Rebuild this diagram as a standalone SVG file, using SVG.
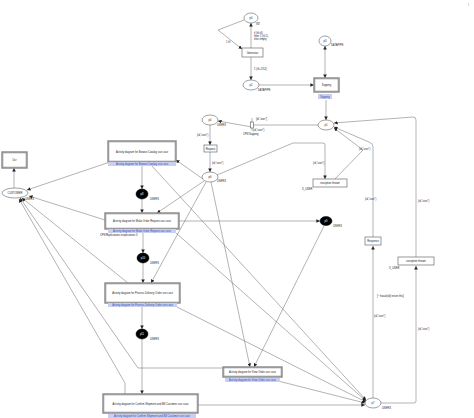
<svg xmlns="http://www.w3.org/2000/svg" width="474" height="418" viewBox="0 0 474 418">
<defs>
<marker id="ar" viewBox="0 0 10 10" refX="10" refY="5" markerWidth="3.6" markerHeight="3.6" orient="auto-start-reverse" markerUnits="userSpaceOnUse">
<path d="M0,0 L10,5 L0,10 z" fill="#222"/>
</marker>
<style>
.c{fill:none;stroke:#666;stroke-width:0.5;marker-end:url(#ar)}
.pl{fill:#fff;stroke:#444;stroke-width:0.5}
.bp{fill:#000;stroke:#000;stroke-width:0.5}
.tr{fill:#fff;stroke:#555;stroke-width:0.6}
.ob{fill:#fff;stroke:#888;stroke-width:1.4}
.ib{fill:none;stroke:#444;stroke-width:0.3}
.band{fill:#c9d0ee}
text{font-family:"Liberation Sans",Arial,sans-serif;font-size:2.6px;fill:#222}
.lk{fill:#2a48c0;text-anchor:middle}
.m{text-anchor:middle}
.w{fill:#fff;text-anchor:middle}
</style>
</defs>
<rect width="474" height="418" fill="#fff"/>
<text x="468" y="6" style="font-size:4px;fill:#999">I</text>

<g id="connectors">
<path class="c" d="M251,48 V23"/>
<path class="c" d="M244,20 L218,30 L242,49"/>
<path class="c" d="M251,57 V80"/>
<path class="c" d="M259,85 H314"/>
<path class="c" style="marker-start:url(#ar)" d="M325,46 V78"/>
<path class="c" d="M326,100 V120"/>
<path class="c" style="marker-end:none" d="M318,125 H252"/>
<path class="c" style="marker-end:none" d="M252,118 V131"/>
<path class="c" d="M252,127 L218,121"/>
<path class="c" d="M210,125 V145"/>
<path class="c" d="M210,152 V172"/>
<path class="c" d="M217,175 L293,143 H323 Q325,143 325,145 V179"/>
<path class="c" d="M335,179 L363,150 L334,128"/>
<path class="c" d="M373,398 V246"/>
<path class="c" d="M373,237 V147 Q373,143 369,142 L334,127"/>
<path class="c" d="M381,403 H414 Q416,403 416,401 V266"/>
<path class="c" d="M416,257 V120 Q416,117 413,117 L334,123"/>
<path class="c" d="M142,166 V189"/>
<path class="c" d="M142,199 V213"/>
<path class="c" d="M143,233 V253"/>
<path class="c" d="M143,263 V283"/>
<path class="c" d="M142,307 V329"/>
<path class="c" d="M142,339 V394"/>
<path class="c" d="M179,221 H320"/>
<path class="c" d="M324,226 L254,367"/>
<path class="c" d="M203,179 L176,160"/>
<path class="c" d="M204,181 L157,213"/>
<path class="c" d="M206,182 L151,283"/>
<path class="c" d="M211,182 L250,367"/>
<path class="c" d="M110,162 L27,190"/>
<path class="c" d="M105,220 L29,196"/>
<path class="c" d="M128,283 L22,198"/>
<path class="c" d="M223,368 H138 L20,198"/>
<path class="c" d="M125,394 V383 L19,199"/>
<path class="c" d="M14,188 V168"/>
<path class="c" d="M152,166 L366,400"/>
<path class="c" d="M176,233 L366,401"/>
<path class="c" d="M177,307 L366,402"/>
<path class="c" d="M278,381 L365,403"/>
<path class="c" d="M198,405 H365"/>
<text x="226" y="43">1`ttl</text>
<text x="254" y="34">if (ttl&gt;0)</text>
<text x="254" y="37">then 1`(ttl-1)</text>
<text x="254" y="40">else empty</text>
<text x="254" y="70">1`(ttl+1%2)</text>
<text x="256" y="120">[id,"user"]</text>
<text x="253" y="131">(id,"user")</text>
<text x="243" y="135">CPN'Sapping</text>
<text x="197" y="136">(id,"user")</text>
<text x="212" y="164">(id,"user")</text>
<text x="313" y="164">(id,"user")</text>
<text x="359" y="150">(id,"user")</text>
<text x="365" y="200">(id,"user")</text>
<text x="418" y="202">(id,"user")</text>
<text x="377" y="297">[~ hasatt(id) return this]</text>
<text x="374" y="317">(id,"user")</text>
<text x="418" y="330">(id,"user")</text>
</g>

<g id="p0"><ellipse class="pl" cx="251" cy="18" rx="7" ry="5"/><text class="m" x="251" y="19">p0</text><text x="256" y="25">INT</text></g>
<g id="generator"><rect class="tr" x="242" y="48" width="21" height="9"/><text class="m" x="252.5" y="53.5">Generator</text></g>
<g id="p2"><ellipse class="pl" cx="251" cy="85" rx="8" ry="5"/><text class="m" x="251" y="86">p2</text><text x="258" y="91">DATAPIPE</text></g>
<g id="p3"><ellipse class="pl" cx="325" cy="41" rx="6" ry="5"/><text class="m" x="325" y="42">p3</text><text x="331" y="46">DATAPIPE</text></g>
<g id="sapping"><rect class="ob" x="314" y="78" width="25" height="14"/><rect class="ib" x="315" y="79" width="23" height="12"/><text class="m" x="326.5" y="86">Sapping</text><rect class="band" x="318" y="94" width="14" height="5"/><text class="lk" x="325" y="97.5">Sapping</text></g>
<g id="p5"><ellipse class="pl" cx="326" cy="125" rx="8" ry="5"/><text class="m" x="326" y="126">p5</text></g>
<g id="tsmall"><rect class="tr" x="250.5" y="122" width="3" height="6"/></g>
<g id="p4"><ellipse class="pl" cx="210" cy="120" rx="8" ry="5"/><text class="m" x="210" y="121">p4</text><text x="217" y="126">USERS</text></g>
<g id="request"><rect class="tr" x="204" y="145" width="13" height="7"/><text class="m" x="210.5" y="149.5">Request</text></g>
<g id="p6"><ellipse class="pl" cx="210" cy="177" rx="8" ry="5"/><text class="m" x="210" y="178">p6</text><text x="217" y="182">USERS</text></g>
<g id="exception1"><rect class="tr" x="313" y="179" width="34" height="8"/><text class="m" x="330" y="184">exception thrown</text><text x="302" y="190">X_USER</text></g>
<g id="response"><rect class="tr" x="365" y="237" width="16" height="8"/><text class="m" x="373" y="242">Response</text></g>
<g id="exception2"><rect class="tr" x="398" y="257" width="36" height="8"/><text class="m" x="416" y="262">exception thrown</text><text x="389" y="269">X_USER</text></g>
<g id="p7"><ellipse class="pl" cx="373" cy="403" rx="8" ry="5"/><text class="m" x="373" y="404">p7</text><text x="382" y="409">USERS</text></g>

<g id="users"><rect class="ob" x="2" y="152" width="25" height="16"/><rect class="ib" x="3" y="153" width="23" height="14"/><text class="m" x="14.5" y="161">Usr</text></g>
<g id="customer"><ellipse class="pl" cx="15" cy="193" rx="13" ry="5"/><text class="m" x="15" y="194">CUSTOMER</text><text x="25" y="200">USERS</text></g>

<g id="box1"><rect class="ob" x="108" y="141" width="68" height="21"/><rect class="ib" x="109" y="142" width="66" height="19"/><text class="m" x="142" y="152.5">Activity diagram for Browse Catalog use case</text><rect class="band" x="108" y="162" width="68" height="4"/><text class="lk" x="142" y="165">Activity diagram for Browse Catalog use case</text></g>
<g id="p8"><ellipse class="bp" cx="142" cy="194" rx="6" ry="5"/><text class="w" x="142" y="195">p8</text><text x="150" y="200">USERS</text></g>
<g id="box2"><rect class="ob" x="105" y="213" width="74" height="16"/><rect class="ib" x="106" y="214" width="72" height="14"/><text class="m" x="142" y="222">Activity diagram for Make Order Request use case</text><rect class="band" x="108" y="229" width="68" height="4"/><text class="lk" x="142" y="232">Activity diagram for Make Order Request use case</text><text x="100" y="236">CPN'Replications.nreplications 3</text></g>
<g id="p9"><ellipse class="bp" cx="326" cy="221" rx="6" ry="4.5"/><text class="w" x="326" y="222">p9</text><text x="333" y="227">USERS</text></g>
<g id="p10"><ellipse class="bp" cx="143" cy="258" rx="6" ry="5"/><text class="w" x="143" y="259">p10</text><text x="150" y="264">USERS</text></g>
<g id="box3"><rect class="ob" x="105" y="283" width="75" height="20"/><rect class="ib" x="106" y="284" width="73" height="18"/><text class="m" x="142.5" y="293.5">Activity diagram for Process Delivery Order use case</text><rect class="band" x="108" y="303" width="69" height="4"/><text class="lk" x="142.5" y="306">Activity diagram for Process Delivery Order use case</text></g>
<g id="p11"><ellipse class="bp" cx="142" cy="334" rx="6" ry="5"/><text class="w" x="142" y="335">p11</text><text x="150" y="340">USERS</text></g>
<g id="box4"><rect class="ob" x="223" y="367" width="59" height="10"/><rect class="ib" x="224" y="368" width="57" height="8"/><text class="m" x="252.5" y="373">Activity diagram for View Order use case</text><rect class="band" x="225" y="378" width="55" height="4"/><text class="lk" x="252.5" y="381">Activity diagram for View Order use case</text></g>
<g id="box5"><rect class="ob" x="103" y="394" width="95" height="19"/><rect class="ib" x="104" y="395" width="93" height="17"/><text class="m" x="150.5" y="404.5">Activity diagram for Confirm Shipment and Bill Customer use case</text><rect class="band" x="108" y="414" width="88" height="4"/><text class="lk" x="152" y="417">Activity diagram for Confirm Shipment and Bill Customer use case</text></g>
</svg>
